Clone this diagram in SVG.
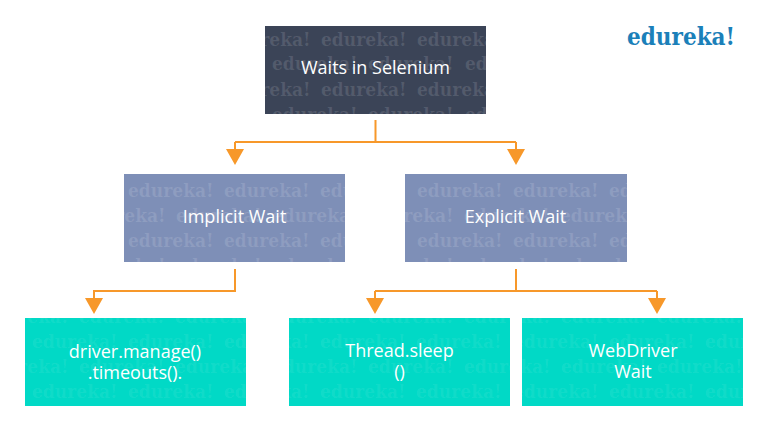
<svg xmlns="http://www.w3.org/2000/svg" width="768" height="432" viewBox="0 0 768 432">
<style>
.wm{font-family:"DejaVu Serif Condensed","DejaVu Serif",serif;font-weight:700;font-size:19px;fill:#fff;fill-opacity:.12}
.t .wm{fill-opacity:.07}
.lb{font-family:"Open Sans","Noto Sans",sans-serif;font-size:18px;fill:#fff;text-anchor:middle}
.cn{fill:none;stroke:#f7982a;stroke-width:2}
.ah{fill:#f7982a}
</style>
<defs>
<clipPath id="c1"><rect x="265" y="26" width="221" height="88"/></clipPath>
<clipPath id="c2"><rect x="124" y="174" width="221" height="88"/></clipPath>
<clipPath id="c3"><rect x="405" y="174" width="222" height="88"/></clipPath>
<clipPath id="c4"><rect x="25" y="318" width="221" height="88"/></clipPath>
<clipPath id="c5"><rect x="289" y="318" width="221" height="88"/></clipPath>
<clipPath id="c6"><rect x="522" y="318" width="221" height="88"/></clipPath>
</defs>
<rect width="768" height="432" fill="#fff"/>
<g id="connectors">
<path class="cn" d="M375.5 120V142M235 142H516M235 142V150M516 142V150"/>
<path class="ah" d="M226 149H244L235 165ZM507 149H525L516 165Z"/>
<path class="cn" d="M235 269V291H94V299"/>
<path class="ah" d="M85 298H103L94 314Z"/>
<path class="cn" d="M516 269V291M375 291H657M375 291V299M657 291V299"/>
<path class="ah" d="M366 298H384L375 314ZM648 298H666L657 314Z"/>
</g>
<g id="node-waits">
<rect x="265" y="26" width="221" height="88" fill="#3b4457"/>
<g clip-path="url(#c1)">
<text class="wm" x="225" y="46">edureka!</text><text class="wm" x="321" y="46">edureka!</text><text class="wm" x="417" y="46">edureka!</text>
<text class="wm" x="272" y="70">edureka!</text><text class="wm" x="368" y="70">edureka!</text><text class="wm" x="465" y="70">edureka!</text>
<text class="wm" x="225" y="96">edureka!</text><text class="wm" x="321" y="96">edureka!</text><text class="wm" x="417" y="96">edureka!</text>
<text class="wm" x="272" y="121">edureka!</text><text class="wm" x="368" y="121">edureka!</text><text class="wm" x="465" y="121">edureka!</text>
</g>
<text class="lb" x="375.5" y="74">Waits in Selenium</text>
</g>
<g id="node-implicit">
<rect x="124" y="174" width="221" height="88" fill="#7e8fb7"/>
<g clip-path="url(#c2)">
<text class="wm" x="128" y="197">edureka!</text><text class="wm" x="224" y="197">edureka!</text><text class="wm" x="320" y="197">edureka!</text>
<text class="wm" x="80" y="222">edureka!</text><text class="wm" x="176" y="222">edureka!</text><text class="wm" x="272" y="222">edureka!</text>
<text class="wm" x="128" y="247">edureka!</text><text class="wm" x="224" y="247">edureka!</text><text class="wm" x="320" y="247">edureka!</text>
<text class="wm" x="80" y="272">edureka!</text><text class="wm" x="176" y="272">edureka!</text><text class="wm" x="272" y="272">edureka!</text>
</g>
<text class="lb" x="234.5" y="223">Implicit Wait</text>
</g>
<g id="node-explicit">
<rect x="405" y="174" width="222" height="88" fill="#7e8fb7"/>
<g clip-path="url(#c3)">
<text class="wm" x="417" y="197">edureka!</text><text class="wm" x="513" y="197">edureka!</text><text class="wm" x="609" y="197">edureka!</text>
<text class="wm" x="368" y="222">edureka!</text><text class="wm" x="464" y="222">edureka!</text><text class="wm" x="560" y="222">edureka!</text>
<text class="wm" x="417" y="247">edureka!</text><text class="wm" x="513" y="247">edureka!</text><text class="wm" x="609" y="247">edureka!</text>
<text class="wm" x="368" y="272">edureka!</text><text class="wm" x="464" y="272">edureka!</text><text class="wm" x="560" y="272">edureka!</text>
</g>
<text class="lb" x="515.5" y="223">Explicit Wait</text>
</g>
<g id="node-driver" class="t">
<rect x="25" y="318" width="221" height="88" fill="#01d9c6"/>
<g clip-path="url(#c4)">
<text class="wm" x="-17" y="323">edureka!</text><text class="wm" x="79" y="323">edureka!</text><text class="wm" x="175" y="323">edureka!</text>
<text class="wm" x="32" y="348">edureka!</text><text class="wm" x="128" y="348">edureka!</text><text class="wm" x="224" y="348">edureka!</text>
<text class="wm" x="-17" y="373">edureka!</text><text class="wm" x="79" y="373">edureka!</text><text class="wm" x="175" y="373">edureka!</text>
<text class="wm" x="32" y="398">edureka!</text><text class="wm" x="128" y="398">edureka!</text><text class="wm" x="224" y="398">edureka!</text>
</g>
<text class="lb" x="135" y="358">driver.manage()</text>
<text class="lb" x="135" y="379">.timeouts().</text>
</g>
<g id="node-thread" class="t">
<rect x="289" y="318" width="221" height="88" fill="#01d9c6"/>
<g clip-path="url(#c5)">
<text class="wm" x="272" y="323">edureka!</text><text class="wm" x="368" y="323">edureka!</text><text class="wm" x="464" y="323">edureka!</text>
<text class="wm" x="224" y="348">edureka!</text><text class="wm" x="320" y="348">edureka!</text><text class="wm" x="416" y="348">edureka!</text>
<text class="wm" x="272" y="373">edureka!</text><text class="wm" x="368" y="373">edureka!</text><text class="wm" x="464" y="373">edureka!</text>
<text class="wm" x="224" y="398">edureka!</text><text class="wm" x="320" y="398">edureka!</text><text class="wm" x="416" y="398">edureka!</text>
</g>
<text class="lb" x="399.5" y="357">Thread.sleep</text>
<text class="lb" x="399.5" y="378">()</text>
</g>
<g id="node-webdriver" class="t">
<rect x="522" y="318" width="221" height="88" fill="#01d9c6"/>
<g clip-path="url(#c6)">
<text class="wm" x="465" y="323">edureka!</text><text class="wm" x="561" y="323">edureka!</text><text class="wm" x="657" y="323">edureka!</text>
<text class="wm" x="513" y="348">edureka!</text><text class="wm" x="609" y="348">edureka!</text><text class="wm" x="705" y="348">edureka!</text>
<text class="wm" x="465" y="373">edureka!</text><text class="wm" x="561" y="373">edureka!</text><text class="wm" x="657" y="373">edureka!</text>
<text class="wm" x="513" y="398">edureka!</text><text class="wm" x="609" y="398">edureka!</text><text class="wm" x="705" y="398">edureka!</text>
</g>
<text class="lb" x="633" y="357">WebDriver</text>
<text class="lb" x="633" y="378">Wait</text>
</g>
<text x="627" y="45" font-family="'DejaVu Serif Condensed','DejaVu Serif',serif" font-weight="700" font-size="24" fill="#1b80b9">edureka!</text>
</svg>
